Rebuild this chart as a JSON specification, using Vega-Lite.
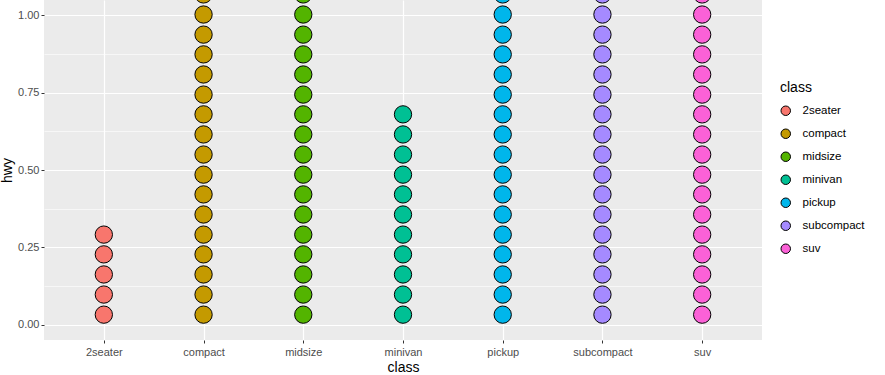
{
  "$schema": "https://vega.github.io/schema/vega-lite/v6.json",
  "width": 718,
  "height": 340,
  "autosize": {"type": "none"},
  "padding": {"left": 44, "top": 0, "right": 123, "bottom": 35},
  "background": "white",
  "config": {
    "font": "Liberation Sans",
    "view": {"fill": "#EBEBEB", "stroke": null},
    "axis": {
      "labelColor": "#4D4D4D",
      "labelFontSize": 11,
      "titleFontSize": 14,
      "titleFontWeight": "normal",
      "titleColor": "#000000",
      "tickColor": "#333333",
      "tickSize": 3,
      "tickWidth": 1,
      "domain": false,
      "gridColor": "#FFFFFF",
      "labelPadding": 2
    }
  },
  "data": {
    "values": [
      {"class": "2seater", "hwy": 0.032}, {"class": "2seater", "hwy": 0.097}, {"class": "2seater", "hwy": 0.162}, {"class": "2seater", "hwy": 0.227}, {"class": "2seater", "hwy": 0.291},
      {"class": "compact", "hwy": 0.032}, {"class": "compact", "hwy": 0.097}, {"class": "compact", "hwy": 0.162}, {"class": "compact", "hwy": 0.227}, {"class": "compact", "hwy": 0.291}, {"class": "compact", "hwy": 0.356}, {"class": "compact", "hwy": 0.421}, {"class": "compact", "hwy": 0.485}, {"class": "compact", "hwy": 0.550}, {"class": "compact", "hwy": 0.615}, {"class": "compact", "hwy": 0.680}, {"class": "compact", "hwy": 0.744}, {"class": "compact", "hwy": 0.809}, {"class": "compact", "hwy": 0.874}, {"class": "compact", "hwy": 0.938}, {"class": "compact", "hwy": 1.003}, {"class": "compact", "hwy": 1.068},
      {"class": "midsize", "hwy": 0.032}, {"class": "midsize", "hwy": 0.097}, {"class": "midsize", "hwy": 0.162}, {"class": "midsize", "hwy": 0.227}, {"class": "midsize", "hwy": 0.291}, {"class": "midsize", "hwy": 0.356}, {"class": "midsize", "hwy": 0.421}, {"class": "midsize", "hwy": 0.485}, {"class": "midsize", "hwy": 0.550}, {"class": "midsize", "hwy": 0.615}, {"class": "midsize", "hwy": 0.680}, {"class": "midsize", "hwy": 0.744}, {"class": "midsize", "hwy": 0.809}, {"class": "midsize", "hwy": 0.874}, {"class": "midsize", "hwy": 0.938}, {"class": "midsize", "hwy": 1.003}, {"class": "midsize", "hwy": 1.068},
      {"class": "minivan", "hwy": 0.032}, {"class": "minivan", "hwy": 0.097}, {"class": "minivan", "hwy": 0.162}, {"class": "minivan", "hwy": 0.227}, {"class": "minivan", "hwy": 0.291}, {"class": "minivan", "hwy": 0.356}, {"class": "minivan", "hwy": 0.421}, {"class": "minivan", "hwy": 0.485}, {"class": "minivan", "hwy": 0.550}, {"class": "minivan", "hwy": 0.615}, {"class": "minivan", "hwy": 0.680},
      {"class": "pickup", "hwy": 0.032}, {"class": "pickup", "hwy": 0.097}, {"class": "pickup", "hwy": 0.162}, {"class": "pickup", "hwy": 0.227}, {"class": "pickup", "hwy": 0.291}, {"class": "pickup", "hwy": 0.356}, {"class": "pickup", "hwy": 0.421}, {"class": "pickup", "hwy": 0.485}, {"class": "pickup", "hwy": 0.550}, {"class": "pickup", "hwy": 0.615}, {"class": "pickup", "hwy": 0.680}, {"class": "pickup", "hwy": 0.744}, {"class": "pickup", "hwy": 0.809}, {"class": "pickup", "hwy": 0.874}, {"class": "pickup", "hwy": 0.938}, {"class": "pickup", "hwy": 1.003}, {"class": "pickup", "hwy": 1.068},
      {"class": "subcompact", "hwy": 0.032}, {"class": "subcompact", "hwy": 0.097}, {"class": "subcompact", "hwy": 0.162}, {"class": "subcompact", "hwy": 0.227}, {"class": "subcompact", "hwy": 0.291}, {"class": "subcompact", "hwy": 0.356}, {"class": "subcompact", "hwy": 0.421}, {"class": "subcompact", "hwy": 0.485}, {"class": "subcompact", "hwy": 0.550}, {"class": "subcompact", "hwy": 0.615}, {"class": "subcompact", "hwy": 0.680}, {"class": "subcompact", "hwy": 0.744}, {"class": "subcompact", "hwy": 0.809}, {"class": "subcompact", "hwy": 0.874}, {"class": "subcompact", "hwy": 0.938}, {"class": "subcompact", "hwy": 1.003}, {"class": "subcompact", "hwy": 1.068},
      {"class": "suv", "hwy": 0.032}, {"class": "suv", "hwy": 0.097}, {"class": "suv", "hwy": 0.162}, {"class": "suv", "hwy": 0.227}, {"class": "suv", "hwy": 0.291}, {"class": "suv", "hwy": 0.356}, {"class": "suv", "hwy": 0.421}, {"class": "suv", "hwy": 0.485}, {"class": "suv", "hwy": 0.550}, {"class": "suv", "hwy": 0.615}, {"class": "suv", "hwy": 0.680}, {"class": "suv", "hwy": 0.744}, {"class": "suv", "hwy": 0.809}, {"class": "suv", "hwy": 0.874}, {"class": "suv", "hwy": 0.938}, {"class": "suv", "hwy": 1.003}, {"class": "suv", "hwy": 1.068}
    ]
  },
  "mark": {"type": "point", "shape": "circle", "filled": true, "size": 300, "stroke": "#000000", "strokeWidth": 1, "opacity": 1, "clip": true},
  "encoding": {
    "x": {
      "field": "class", "type": "nominal",
      "scale": {"type": "point", "padding": 0.6},
      "axis": {"labelAngle": 0, "grid": true, "gridWidth": 1.2, "titlePadding": 3, "labelPadding": 3}
    },
    "y": {
      "field": "hwy", "type": "quantitative",
      "scale": {"domain": [-0.05, 1.05], "nice": false, "zero": false},
      "axis": {
        "values": [0, 0.125, 0.25, 0.375, 0.5, 0.625, 0.75, 0.875, 1],
        "labelExpr": "round(datum.value*8) % 2 == 1 ? '' : format(datum.value, '.2f')",
        "gridWidth": {"condition": {"test": "round(datum.value*8) % 2 == 1", "value": 0.6}, "value": 1.2},
        "tickColor": {"condition": {"test": "round(datum.value*8) % 2 == 1", "value": "transparent"}, "value": "#333333"},
        "titlePadding": 3
      }
    },
    "fill": {
      "field": "class", "type": "nominal",
      "scale": {"range": ["#F8766D", "#C49A00", "#53B400", "#00C094", "#00B6EB", "#A58AFF", "#FB61D7"]},
      "legend": {
        "orient": "none", "legendX": 736, "legendY": 81,
        "titleFontSize": 14, "titleFontWeight": "normal", "titleColor": "#000000", "titlePadding": 10,
        "labelFontSize": 11.5, "labelColor": "#000000", "labelOffset": 11,
        "symbolSize": 90, "symbolStrokeColor": "#000000", "symbolStrokeWidth": 1, "symbolType": "circle",
        "rowPadding": 9, "padding": 0, "offset": 0
      }
    }
  }
}
